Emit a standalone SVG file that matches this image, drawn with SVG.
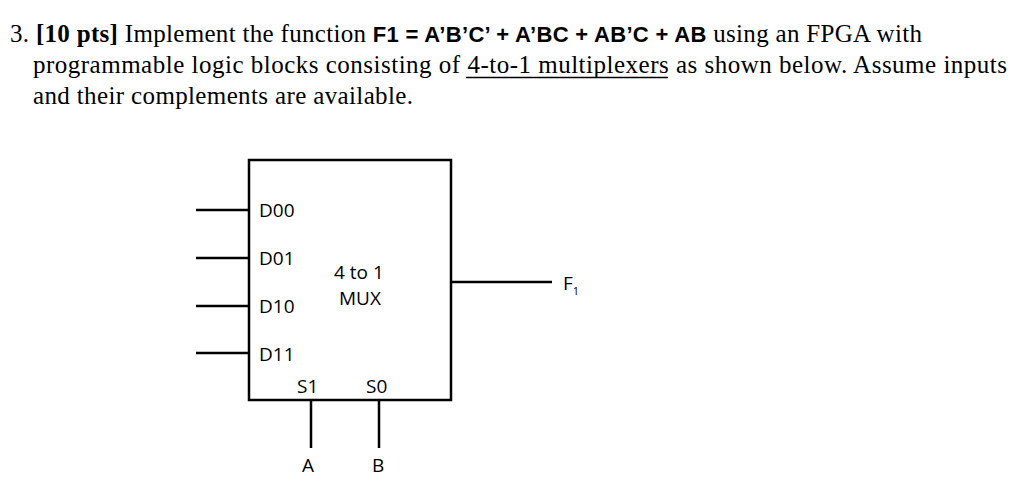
<svg xmlns="http://www.w3.org/2000/svg" width="1024" height="491" viewBox="0 0 1024 491">
<style>
.t{font-family:"Liberation Serif",serif;font-size:25px;fill:#000}
.b{font-family:"Liberation Sans",sans-serif;font-weight:bold;font-size:22px}
.l{font-family:"Open Sans","Liberation Sans",sans-serif;font-size:19px;fill:#000}
.w{stroke:#000;stroke-width:2.5;fill:none}
</style>
<rect width="1024" height="491" fill="#fff"/>
<text class="t" x="10" y="42" textLength="912" lengthAdjust="spacing">3. <tspan font-weight="bold">[10 pts]</tspan> Implement the function <tspan class="b">F1 = A’B’C’ + A’BC + AB’C + AB</tspan> using an FPGA with</text>
<text class="t" x="33" y="73" textLength="974" lengthAdjust="spacing">programmable logic blocks consisting of 4-to-1 multiplexers as shown below. Assume inputs</text>
<path d="M466 77.5H668" stroke="#000" stroke-width="1.3"/>
<text class="t" x="33" y="104" textLength="380" lengthAdjust="spacing">and their complements are available.</text>
<g id="mux">
<rect class="w" x="249" y="160" width="202" height="240"/>
<text class="l" x="259" y="217">D00</text>
<text class="l" x="259" y="265">D01</text>
<text class="l" x="259" y="313">D10</text>
<text class="l" x="259" y="361">D11</text>
<text class="l" x="334" y="279">4 to 1</text>
<text class="l" x="339" y="305">MUX</text>
<text class="l" x="297" y="393">S1</text>
<text class="l" x="366" y="393">S0</text>
</g>
<g id="connectors">
<path class="w" d="M196 210H249M196 258H249M196 306H249M196 353H249M451 282H552M311 400V448M379 400V448"/>
</g>
<text class="l" x="563" y="290">F<tspan font-size="11" dy="5">1</tspan></text>
<text class="l" x="302" y="472">A</text>
<text class="l" x="372" y="472">B</text>
</svg>
